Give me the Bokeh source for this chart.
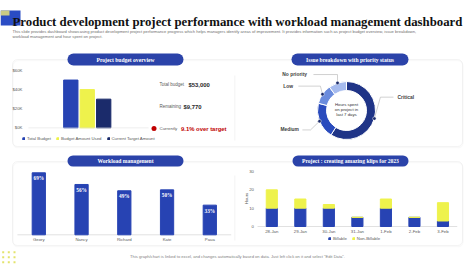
import numpy as np
from bokeh.plotting import figure
from bokeh.models import (ColumnDataSource, BoxAnnotation, Label, FixedTicker, LinearAxis,
                          PrintfTickFormatter, Range1d, Legend, LegendItem)
from bokeh.embed import file_html
from bokeh.resources import INLINE
from bokeh.core.properties import value

# ---------------- data ----------------
title_text = "Product development project performance with workload management dashboard"
subtitle_lines = [
    "This slide provides dashboard showcasing product development project performance progress which helps managers identify areas of improvement. It provides information such as project budget overview, issue breakdown,",
    "workload management and hour spent on project.",
]
footer_text = 'This graph/chart is linked to excel, and changes automatically based on data. Just left click on it and select "Edit Data".'

budget_items = ["Total Budget", "Budget Amount Used", "Current Target Amount"]
budget_values_k = [50, 40, 30]
budget_ticks_k = [0, 20, 40, 60]
total_budget = 53000
remaining_budget = 9770
over_target_pct = 9.1

issue_priorities = ["Critical", "Medium", "Low", "No priority"]
issue_shares = [59, 20, 11, 10]
donut_center_lines = ["Hours spent", "on project in", "last 7 days"]

workload_people = ["Geory", "Nancy", "Richard", "Kate", "Paua"]
workload_pct = [69, 56, 49, 50, 33]

klips_days = ["28-Jan", "29-Jan", "30-Jan", "31-Jan", "1-Feb", "2-Feb", "3-Feb"]
billable_hours = [10, 10, 10, 5, 10, 5, 3]
non_billable_hours = [10, 5, 2, 0, 5, 0, 10]
hours_ticks = [0, 10, 20, 30]

# ---------------- styles ----------------
W, H = 474, 266
BLUE = "#2743b3"
YELLOW = "#eef24c"
NAVY = "#1b2b6b"
PILL = "#2b43a9"
TXT = "#595959"
BORDER = "#d0d0d0"
SANS = "Liberation Sans"
SERIF = "Liberation Serif"
DONUT_COLORS = ["#1f3487", "#2a4bbd", "#6a8bdd", "#a6bbee"]

# one canvas; default ranges are page pixels (y downwards) for the decorations
p = figure(width=W, height=H, x_range=Range1d(0, W), y_range=Range1d(H, 0), output_backend="svg",
           toolbar_location=None, x_axis_location=None, y_axis_location=None,
           min_border_left=0, min_border_right=0, min_border_top=0, min_border_bottom=0)
p.outline_line_color = None
p.border_fill_color = "white"
p.background_fill_color = "white"
p.grid.grid_line_color = None


def xrange_px(px0, ppu):
    """data 0 at page x px0, one data unit = ppu pixels"""
    return Range1d(-px0 / ppu, (W - px0) / ppu)


def yrange_px(py0, ppu):
    """data 0 at page y py0 (from top), one data unit = ppu pixels upwards"""
    return Range1d(-(H - py0) / ppu, py0 / ppu)


def box(x0, y0, x1, y1, fill=None, line=None, lw=1.0, radius=0, alpha=1.0, level="annotation"):
    p.add_layout(BoxAnnotation(left=x0, right=x1, top=y0, bottom=y1,
                               fill_color=fill if fill else "white", fill_alpha=alpha if fill else 0.0,
                               line_color=line, line_width=lw, border_radius=int(round(radius)),
                               level=level))


def text(x, y, t, size, color=TXT, font=SANS, bold=False, align="left", baseline="middle", angle=0.0):
    p.add_layout(Label(x=x, y=y, text=t, text_font=font, text_font_size=f"{size}px",
                       text_font_style="bold" if bold else "normal", text_color=color,
                       text_align=align, text_baseline=baseline, angle=angle))


def panel(x0, y0, x1, y1):
    box(x0 + 0.5, y0 + 1.2, x1 + 0.5, y1 + 1.2, line="#ebebeb", lw=1.2, radius=5, level="underlay")
    box(x0, y0, x1, y1, line=BORDER, lw=0.8, radius=5, level="underlay")


def pill(x0, x1, y0, y1, t):
    box(x0, y0, x1, y1, fill=PILL, radius=(y1 - y0) / 2)
    text((x0 + x1) / 2, (y0 + y1) / 2 + 0.3, t, 5.6, color="white", font=SERIF, bold=True, align="center")


def style_axis(ax, standoff):
    ax.axis_line_color = None
    ax.major_tick_line_color = None
    ax.minor_tick_line_color = None
    ax.major_tick_out = 0
    ax.major_tick_in = 0
    ax.major_label_text_font_size = "4.3px"
    ax.major_label_text_color = TXT
    ax.major_label_text_font = SANS
    ax.major_label_standoff = standoff


def legend(items, x, y_mid):
    lg = Legend(items=items, orientation="horizontal", location=(x, H - (y_mid + 2.5)),
                label_text_font_size="4.3px", label_text_font=SANS, label_text_color=TXT,
                glyph_width=3, glyph_height=3, label_height=5, label_width=1, label_standoff=2,
                spacing=5, padding=0, margin=0, border_line_color=None, background_fill_alpha=0.0)
    p.add_layout(lg)


# ---------------- header ----------------
box(0, 10, 20, 25, fill="#2a4cc4")
box(0, 10, 9, 15, fill="#e6e27a", alpha=0.85)
text(12, 21, title_text, 12.8, color="#111111", font=SERIF, bold=True, baseline="alphabetic")
text(12, 30.5, subtitle_lines[0], 4.1, color="#6f6f6f")
text(12, 35.5, subtitle_lines[1], 4.1, color="#6f6f6f")

# ---------------- panels ----------------
panel(12, 59, 462, 146)
panel(12, 161, 462, 245)
box(234, 75, 234.8, 140, fill="#f0f0f0")
box(234, 175, 234.8, 240, fill="#f0f0f0")
pill(67, 183, 53, 65, "Project budget overview")
pill(291, 408, 53, 65, "Issue breakdown with priority status")
pill(67, 183, 155, 166, "Workload management")
pill(292, 408, 155, 166, "Project : creating amazing klips for 2023")

# ---------------- budget overview ----------------
p.extra_x_ranges["bx"] = xrange_px(70.3, 16.45)
p.extra_y_ranges["by"] = yrange_px(127.3, 57.3 / 60)
bidx = np.arange(len(budget_items))
bsrc = ColumnDataSource(dict(x=bidx, val=budget_values_k, color=[BLUE, YELLOW, NAVY]))
rb = p.vbar(x="x", top="val", width=0.87, color="color", source=bsrc, x_range_name="bx", y_range_name="by")
box(28, 127.3, 148, 127.3, line="#d9d9d9", lw=0.8)
bya = LinearAxis(x_range_name="bx", y_range_name="by", fixed_location=(25 - 70.3) / 16.45,
                 ticker=FixedTicker(ticks=budget_ticks_k), formatter=PrintfTickFormatter(format="$%dK"))
style_axis(bya, 3)
p.add_layout(bya, "left")
legend([LegendItem(label=nm, renderers=[rb], index=i) for i, nm in enumerate(budget_items)], 22, 138)
text(159, 84, "Total budget", 4.5)
text(188, 84, f"${total_budget:,.0f}", 5.9, color="#262626", bold=True)
text(159, 106, "Remaining", 4.5)
text(183, 106, f"${remaining_budget:,.0f}", 5.9, color="#262626", bold=True)
box(151, 125.5, 156, 130.5, fill="#c00000", radius=3)
text(159, 128, "Currently", 4.4)
text(180.5, 128, f"{over_target_pct}% over target", 5.9, color="#c00000", bold=True)

# ---------------- issue breakdown donut ----------------
p.extra_x_ranges["dx"] = xrange_px(346, 29)
p.extra_y_ranges["dy"] = yrange_px(110, 29)
shares = np.array(issue_shares, dtype=float)
frac = shares / shares.sum()
ends = np.cumsum(frac)
starts = ends - frac
dsrc = ColumnDataSource(dict(name=issue_priorities, start=np.pi / 2 - starts * 2 * np.pi,
                             end=np.pi / 2 - ends * 2 * np.pi, color=DONUT_COLORS))
p.annular_wedge(x=0, y=0, inner_radius=0.69, outer_radius=1.0, start_angle="start", end_angle="end",
                direction="clock", fill_color="color", line_color="white", line_width=1, source=dsrc,
                x_range_name="dx", y_range_name="dy")
mid = np.pi / 2 - (starts + frac / 2) * 2 * np.pi
dot_x, dot_y = np.cos(mid), np.sin(mid)
# label layout (units of donut radius): label y, line near x, line far x, text x, align
leader = {
    "Critical": (0.46, 1.17, 1.62, 1.76, "left"),
    "Medium": (-0.67, -1.24, -1.52, -1.64, "right"),
    "Low": (0.84, -0.90, -1.66, -1.84, "right"),
    "No priority": (1.24, -0.31, -1.14, -1.36, "right"),
}
xs, ys, tx, ty, ta = [], [], [], [], []
for i, nm in enumerate(issue_priorities):
    ly, nx, fx, txx, al = leader[nm]
    xs.append([dot_x[i], nx, fx])
    ys.append([dot_y[i], ly, ly])
    tx.append(txx); ty.append(ly); ta.append(al)
p.multi_line(xs=xs, ys=ys, line_color="#bdbdbd", line_width=0.7, x_range_name="dx", y_range_name="dy")
p.scatter(x=dot_x, y=dot_y, size=3.5, fill_color="#1b2b6b", line_color="white", line_width=0.5,
          x_range_name="dx", y_range_name="dy")
p.text(x=tx, y=ty, text=issue_priorities, text_align=ta, text_baseline="middle",
       text_font=value(SANS), text_font_size="4.9px", text_font_style="bold", text_color="#404040",
       x_range_name="dx", y_range_name="dy")
p.text(x=[0, 0, 0], y=[0.19, 0.02, -0.15], text=donut_center_lines, text_align="center",
       text_baseline="middle", text_font=value(SANS), text_font_size="4.3px", text_color="#333333",
       x_range_name="dx", y_range_name="dy")

# ---------------- workload management ----------------
p.extra_x_ranges["wx"] = xrange_px(38.3, 42.75)
p.extra_y_ranges["wy"] = yrange_px(234.3, 62.0 / 69)
widx = np.arange(len(workload_people))
wsrc = ColumnDataSource(dict(x=widx, pct=workload_pct, lab=[f"{v}%" for v in workload_pct]))
p.segment(x0=[-0.5], y0=[0], x1=[len(workload_people) - 0.5], y1=[0], line_color="#d9d9d9", line_width=0.8,
          x_range_name="wx", y_range_name="wy")
p.vbar(x="x", top="pct", width=0.31, color=BLUE, source=wsrc, x_range_name="wx", y_range_name="wy")
p.text(x="x", y="pct", text="lab", source=wsrc, y_offset=2.5, text_align="center", text_baseline="top",
       text_font=value(SERIF), text_font_size="5.3px", text_font_style="bold", text_color="white",
       x_range_name="wx", y_range_name="wy")
wxa = LinearAxis(x_range_name="wx", y_range_name="wy", fixed_location=0,
                 ticker=FixedTicker(ticks=list(widx)),
                 major_label_overrides={int(i): nm for i, nm in zip(widx, workload_people)})
style_axis(wxa, 2)
p.add_layout(wxa, "below")

# ---------------- klips hours ----------------
p.extra_x_ranges["kx"] = xrange_px(271.3, 28.53)
p.extra_y_ranges["ky"] = yrange_px(226, 55.0 / 30)
kidx = np.arange(len(klips_days))
ksrc = ColumnDataSource(dict(x=kidx, billable=billable_hours, non_billable=non_billable_hours))
p.segment(x0=[-0.5], y0=[0], x1=[len(klips_days) - 0.5], y1=[0], line_color="#d9d9d9", line_width=0.8,
          x_range_name="kx", y_range_name="ky")
kr = p.vbar_stack(["billable", "non_billable"], x="x", width=0.39, color=[BLUE, YELLOW], source=ksrc,
                  x_range_name="kx", y_range_name="ky")
kxa = LinearAxis(x_range_name="kx", y_range_name="ky", fixed_location=0,
                 ticker=FixedTicker(ticks=list(kidx)),
                 major_label_overrides={int(i): d for i, d in zip(kidx, klips_days)})
style_axis(kxa, 2)
p.add_layout(kxa, "below")
kya = LinearAxis(x_range_name="kx", y_range_name="ky", fixed_location=(257.5 - 271.3) / 28.53,
                 ticker=FixedTicker(ticks=hours_ticks))
style_axis(kya, 4)
p.add_layout(kya, "left")
text(246, 198, "Hours", 4.3, align="center", angle=np.pi / 2)
legend([LegendItem(label="Billable", renderers=[kr[0]]), LegendItem(label="Non-Billable", renderers=[kr[1]])],
       328, 238)

# ---------------- footer ----------------
for dx in (2.7, 8.3, 14):
    for dy in (251.7, 256.7, 261.7):
        box(dx - 1, dy - 1, dx + 1, dy + 1, fill="#e3e36c")
text(237, 256, footer_text, 4.1, color="#7f7f7f", align="center")

open("out.html", "w").write(file_html(p, INLINE))
